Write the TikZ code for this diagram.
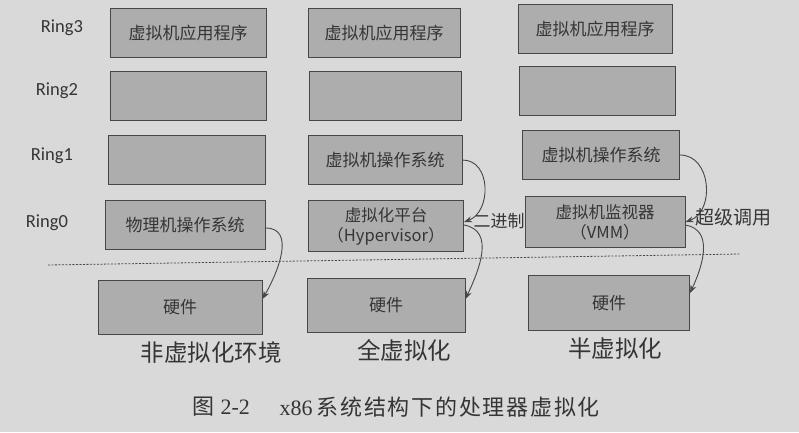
\documentclass[tikz,border=0pt]{standalone}
\usepackage{fontspec}
\setmainfont{Liberation Serif}
\newfontfamily\cjk{Noto Sans CJK SC}
\newfontfamily\cjkspaced[LetterSpace=8]{Noto Sans CJK SC}
\newfontfamily\ringfont{Carlito}
\usetikzlibrary{arrows.meta}
\definecolor{bgc}{HTML}{D9D9D9}
\definecolor{boxc}{HTML}{ADADAD}
\definecolor{edgec}{HTML}{474747}
\definecolor{txtc}{HTML}{353535}
\tikzset{
  layer/.style={draw=edgec, line width=1pt, fill=boxc, text=txtc, inner sep=0pt,
    minimum height=49pt, align=center, font=\cjk\fontsize{17}{20}\selectfont},
  ringlabel/.style={text=txtc, font=\ringfont\fontsize{18.5}{22}\selectfont},
  envlabel/.style={text=txtc, font=\cjk\fontsize{23.5}{28}\selectfont},
  conn/.style={draw=edgec, line width=0.9pt, -{Stealth[length=8pt,width=6pt]}},
  sidelabel/.style={text=txtc, font=\cjk\fontsize{17}{20}\selectfont}
}
\begin{document}
\begin{tikzpicture}[x=1pt,y=-1pt]
\fill[bgc] (0,0) rectangle (799,432);
\useasboundingbox (0,0) rectangle (799,432);
% ring labels
\node[ringlabel] (r3) at (62,28) {Ring3};
\node[ringlabel] (r2) at (57,91) {Ring2};
\node[ringlabel] (r1) at (52,156) {Ring1};
\node[ringlabel] (r0) at (47,223) {Ring0};
% column 1
\node[layer, minimum width=156pt] (a3) at (188,33) {虚拟机应用程序};
\node[layer, minimum width=156pt] (a2) at (188,96) {};
\node[layer, minimum width=157pt] (a1) at (187,160) {};
\node[layer, minimum width=160pt] (a0) at (185,225) {物理机操作系统};
\node[layer, minimum width=164pt, minimum height=54pt] (ah) at (180,307) {硬件};
% column 2
\node[layer, minimum width=152pt] (b3) at (384,33) {虚拟机应用程序};
\node[layer, minimum width=152pt] (b2) at (385,96) {};
\node[layer, minimum width=154pt] (b1) at (385,160) {虚拟机操作系统};
\node[layer, minimum width=155pt, minimum height=51pt, font=\cjk\fontsize{16.5}{20}\selectfont] (b0) at (386,226) {虚拟化平台\\（Hypervisor）};
\node[layer, minimum width=158pt, minimum height=54pt] (bh) at (386,305) {硬件};
% column 3
\node[layer, minimum width=154pt] (c3) at (595,29) {虚拟机应用程序};
\node[layer, minimum width=156pt] (c2) at (597,91) {};
\node[layer, minimum width=157pt] (c1) at (601,155) {虚拟机操作系统};
\node[layer, minimum width=160pt, minimum height=51pt, font=\cjk\fontsize{16.5}{20}\selectfont] (c0) at (605,222) {虚拟机监视器\\（VMM）};
\node[layer, minimum width=161pt, minimum height=55pt] (ch) at (609,303) {硬件};
% dashed separator
\coordinate (dl) at (48,265);
\coordinate (dr) at (740,254);
\draw[edgec, line width=0.8pt, dash pattern=on 2pt off 1.5pt] (dl) -- (dr);
% connectors
\draw[conn] ([yshift=-3pt]a0.east) to[out=0,in=60,looseness=1.1] ([yshift=8pt]ah.east);
\draw[conn] (b1.east) to[out=0,in=20,looseness=1.2] ([yshift=4pt]b0.east);
\draw[conn] ([yshift=1pt]b0.east) to[out=-10,in=65,looseness=1.1] ([yshift=6pt]bh.east);
\draw[conn] (c1.east) to[out=0,in=20,looseness=1.2] ([yshift=0pt]c0.east);
\draw[conn] ([yshift=-3pt]c0.east) to[out=-10,in=65,looseness=1.1] ([yshift=10pt]ch.east);
% side labels
\node[sidelabel] (bin) at (499,221) {二进制};
\node[sidelabel, font=\cjk\fontsize{19}{22}\selectfont] (hyp) at (733,217) {超级调用};
% environment labels
\node[envlabel] (e1) at (211,353) {非虚拟化环境};
\node[envlabel] (e2) at (404,350) {全虚拟化};
\node[envlabel] (e3) at (615,349) {半虚拟化};
% caption
\node[text=txtc, font=\fontsize{22}{26}\selectfont, anchor=west] (capa) at (189,407) {{\cjk 图}\hspace{6pt}2-2};
\node[text=txtc, font=\fontsize{22}{26}\selectfont, anchor=west] (capb) at (276,407) {x86\hspace{4pt}{\cjkspaced\fontsize{22}{26}\selectfont 系统结构下的处理器虚拟化}};
\end{tikzpicture}
\end{document}
